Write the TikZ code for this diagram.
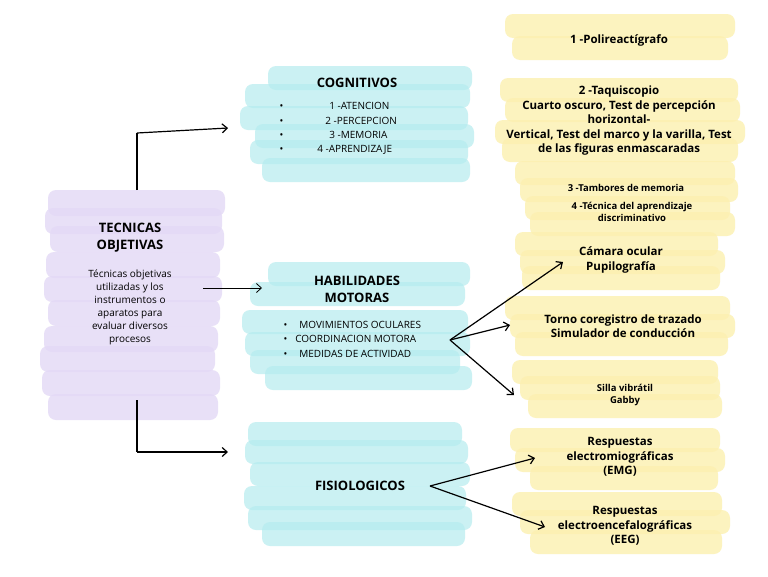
\documentclass[tikz,border=0pt]{standalone}
\usepackage{fontspec}
\setmainfont{Open Sans}
\usetikzlibrary{arrows.meta}
\definecolor{pur}{HTML}{E3D9F6}
\definecolor{cya}{HTML}{B5ECEF}
\definecolor{yel}{HTML}{FCF0B0}
\begin{document}
\begin{tikzpicture}[x=1pt,y=-1pt,
  stroke/.style={rounded corners=8pt,draw=none},
  ttl/.style={font=\bfseries\fontsize{13}{17}\selectfont,align=center},
  sm/.style={font=\fontsize{10}{13}\selectfont,align=center},
  yt/.style={font=\bfseries\fontsize{11.5}{14.5}\selectfont,align=center},
  ys/.style={font=\bfseries\fontsize{9.5}{12.5}\selectfont,align=center},
  arr/.style={-{Straight Barb[length=5pt,width=9pt]},line width=1.2pt}]
\useasboundingbox (0,0) rectangle (768,576);
\fill[white] (0,0) rectangle (768,576);
% purple
\foreach \y/\a/\b in {190/48/225,208/45/222,226/50/224,252/46/220,276/44/222,300/48/220,326/44/218,346/40/215,370/42/220,394/48/218}
  \fill[pur,stroke,opacity=.8] (\a,\y) rectangle (\b,\y+26);
% cyan
\foreach \y/\a/\b in {66/268/472,84/245/470,106/240/468,124/255/474,140/250/468,158/262/470}
  \fill[cya,stroke,opacity=.7] (\a,\y) rectangle (\b,\y+24);
\foreach \y/\a/\b in {262/268/470,282/250/465,310/242/468,332/245/470,350/250/460,366/265/472}
  \fill[cya,stroke,opacity=.7] (\a,\y) rectangle (\b,\y+24);
\foreach \y/\a/\b in {422/248/462,440/245/468,462/250/470,486/244/466,506/248/472,522/262/465}
  \fill[cya,stroke,opacity=.7] (\a,\y) rectangle (\b,\y+24);
% yellow
\foreach \y/\a/\b in {14/505/735,36/512/728,78/500/738,98/505/740,120/495/745,138/502/738,161/515/735,178/520/738,196/525/730,212/530/735,232/515/718,250/520/725,266/522/720,296/505/730,314/510/735,332/515/728,360/512/718,376/520/720,394/528/722,428/510/720,448/515/725,466/530/718,492/512/722,510/520/730,530/530/722}
  \fill[yel,stroke,opacity=.8] (\a,\y) rectangle (\b,\y+24);

\node[ttl] (tec) at (130,238) {TECNICAS\\OBJETIVAS};
\node[sm] (tecd) at (130,307) {Técnicas objetivas\\utilizadas y los\\instrumentos o\\aparatos para\\evaluar diversos\\procesos};

\node[ttl] (cog) at (357,83) {COGNITIVOS};
\node[sm,anchor=west] (c1) at (276,106) {\textbullet\hspace{46pt}1 -ATENCION};
\node[sm,anchor=west] (c2) at (276,121) {\textbullet\hspace{42pt}2 -PERCEPCION};
\node[sm,anchor=west] (c3) at (276,135) {\textbullet\hspace{46pt}3 -MEMORIA};
\node[sm,anchor=west] (c4) at (276,150) {\textbullet\hspace{34pt}4 -APRENDIZAJE};

\node[ttl] (hab) at (357,289) {HABILIDADES\\MOTORAS};
\node[sm,anchor=west] (h1) at (280,325) {\textbullet\hspace{12pt}MOVIMIENTOS OCULARES};
\node[sm,anchor=west] (h2) at (280,339) {\textbullet\hspace{8pt}COORDINACION MOTORA};
\node[sm,anchor=west] (h3) at (280,354) {\textbullet\hspace{12pt}MEDIDAS DE ACTIVIDAD};

\node[ttl] (fis) at (360,486) {FISIOLOGICOS};

\node[yt] (y1) at (619,40) {1 -Polireactígrafo};
\node[yt] (y2) at (619,121) {2 -Taquiscopio\\Cuarto oscuro, Test de percepción\\horizontal-\\Vertical, Test del marco y la varilla, Test\\de las figuras enmascaradas};
\node[ys] (y3) at (626,188) {3 -Tambores de memoria};
\node[ys] (y4) at (632,212) {4 -Técnica del aprendizaje\\discriminativo};
\node[yt] (y5) at (621,260) {Cámara ocular\\Pupilografía};
\node[yt] (y6) at (623,326) {Torno coregistro de trazado\\Simulador de conducción};
\node[ys] (y7) at (625,395) {Silla vibrátil\\Gabby};
\node[yt] (y8) at (620,457) {Respuestas\\electromiográficas\\(EMG)};
\node[yt] (y9) at (625,526) {Respuestas\\electroencefalográficas\\(EEG)};

\coordinate (top) at (137,133);
\coordinate (bot) at (137,452);
\draw[line width=1.2pt] (137,190) -- (top);
\draw[arr] (top) -- (228,128);
\draw[line width=1.2pt] (137,400) -- (bot);
\draw[arr] (bot) -- (228,452);
\draw[arr,line width=.8pt] (203,288) -- (262,288);
\coordinate (hm) at (450,340);
\draw[arr] (hm) -- (563,262);
\draw[arr] (hm) -- (510,325);
\draw[arr] (hm) -- (514,395);
\coordinate (fm) at (430,486);
\draw[arr] (fm) -- (535,458);
\draw[arr] (fm) -- (545,527);
\end{tikzpicture}
\end{document}
